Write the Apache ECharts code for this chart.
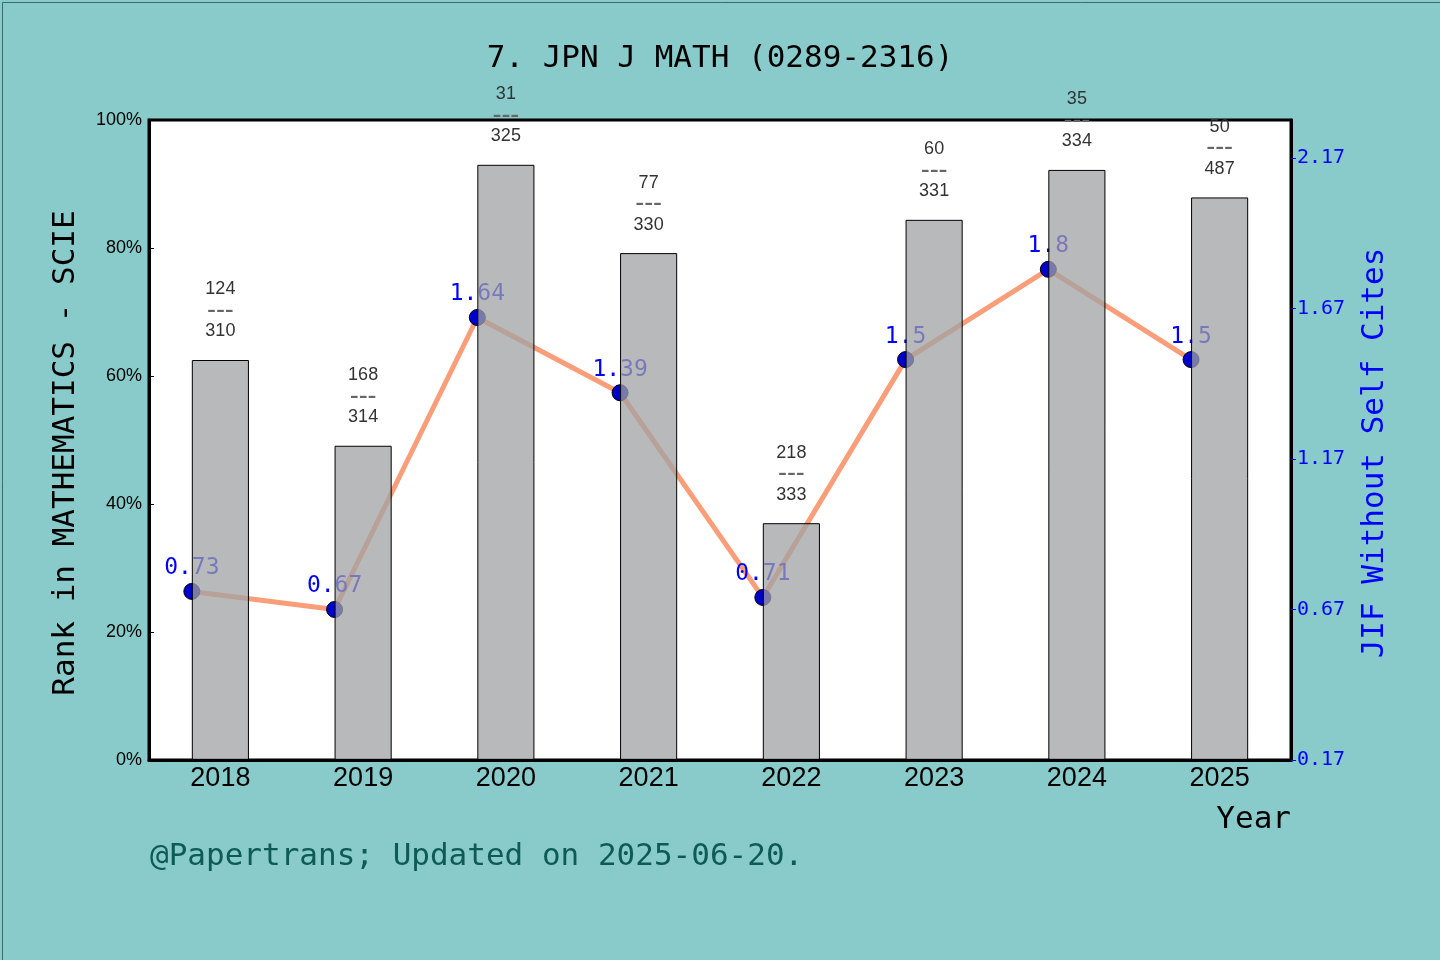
<!DOCTYPE html>
<html>
<head>
<meta charset="utf-8">
<script src="https://cdn.jsdelivr.net/npm/echarts@6.0.0/dist/echarts.min.js"></script>
<style>
  html, body { margin: 0; padding: 0; background: #88cbca; }
  #chart { width: 1440px; height: 960px; }
</style>
</head>
<body>
<div id="chart"></div>
<script>
// Chart data
const years = ["2018", "2019", "2020", "2021", "2022", "2023", "2024", "2025"];
const rankPercent = [62.5, 49.1, 93.0, 79.2, 37.0, 84.4, 92.2, 87.9];
const rankPos = [124, 168, 31, 77, 218, 60, 35, 50];
const rankTotal = [310, 314, 325, 330, 333, 331, 334, 487];
const jifValues = [0.73, 0.67, 1.64, 1.39, 0.71, 1.5, 1.8, 1.5];
const jifTicks = [0.17, 0.67, 1.17, 1.67, 2.17];

const monoFont = "DejaVu Sans Mono";
const sansFont = "Liberation Sans";

const chart = echarts.init(document.getElementById("chart"), null, { renderer: "canvas" });

// line points sit on the left edge of each bar (bar is 40% of the band)
const jifPoints = jifValues.map((v, i) => [i - 0.2, v]);

const option = {
  backgroundColor: "#88cbca",
  animation: false,
  title: {
    text: "7. JPN J MATH (0289-2316)",
    left: "center",
    top: 38,
    textStyle: { fontFamily: monoFont, fontSize: 31, fontWeight: "normal", color: "#000" },
  },
  grid: {
    left: 149,
    right: 149,
    top: 120,
    bottom: 200,
    show: true,
    backgroundColor: "#fff",
    borderColor: "#000",
    borderWidth: 3,
  },
  xAxis: [
    {
      type: "category",
      data: years,
      name: "Year",
      nameLocation: "end",
      nameGap: 0,
      nameTextStyle: {
        fontFamily: monoFont,
        fontSize: 31,
        color: "#000",
        align: "right",
        verticalAlign: "top",
        padding: [44, 0, 0, 0],
      },
      axisLine: { onZero: false, lineStyle: { color: "#000", width: 3 } },
      axisTick: { inside: true, length: 5, lineStyle: { color: "#000" } },
      axisLabel: { fontFamily: sansFont, fontSize: 27, color: "#000", margin: 5 },
    },
    {
      type: "value",
      min: -0.5,
      max: 7.5,
      show: false,
    },
  ],
  yAxis: [
    {
      type: "value",
      min: 0,
      max: 100,
      interval: 20,
      name: "Rank in MATHEMATICS - SCIE",
      nameLocation: "middle",
      nameGap: 68,
      nameTextStyle: { fontFamily: monoFont, fontSize: 31, color: "#000", padding: [0, 26, 0, 0] },
      splitLine: { show: false },
      axisLine: { show: true, onZero: false, lineStyle: { color: "#000", width: 3 } },
      axisTick: { show: true, inside: true, length: 5, lineStyle: { color: "#000" } },
      axisLabel: { formatter: "{value}%", fontFamily: sansFont, fontSize: 18, color: "#000", margin: 7 },
    },
    {
      type: "value",
      position: "right",
      min: 0.17,
      max: 2.296,
      name: "JIF Without Self Cites",
      nameLocation: "middle",
      nameGap: 68,
      nameTextStyle: { fontFamily: monoFont, fontSize: 31, color: "#0000ff", padding: [0, 26, 0, 0] },
      splitLine: { show: false },
      axisLine: { show: true, onZero: false, lineStyle: { color: "#000", width: 3 } },
      axisTick: { show: true, length: 5, customValues: jifTicks, lineStyle: { color: "#0000ff" } },
      axisLabel: {
        customValues: jifTicks,
        formatter: (v) => v.toFixed(2),
        fontFamily: monoFont,
        fontSize: 20,
        color: "#0000ff",
        margin: 6,
      },
    },
  ],
  series: [
    {
      name: "JIF",
      type: "line",
      xAxisIndex: 1,
      yAxisIndex: 1,
      z: 2,
      data: jifPoints,
      symbol: "circle",
      symbolSize: 16,
      lineStyle: { color: "#fa9e7a", width: 5 },
      itemStyle: { color: "#0000cc", borderColor: "#000", borderWidth: 1 },
      label: {
        show: true,
        position: "top",
        distance: 3,
        formatter: (p) => String(p.value[1]),
        fontFamily: monoFont,
        fontSize: 23,
        color: "#0000ff",
      },
    },
    {
      name: "Rank",
      type: "bar",
      xAxisIndex: 0,
      yAxisIndex: 0,
      z: 3,
      barWidth: "40%",
      data: rankPercent,
      itemStyle: { color: "rgba(160,161,163,0.75)", borderColor: "#000", borderWidth: 1 },
      label: {
        show: true,
        position: "top",
        distance: 18,
        formatter: (p) => rankPos[p.dataIndex] + "\n{d|---}\n" + rankTotal[p.dataIndex],
        fontFamily: sansFont,
        fontSize: 18,
        lineHeight: 21,
        color: "#333",
        rich: {
          d: { fontFamily: sansFont, fontSize: 27, lineHeight: 21, color: "#666" },
        },
      },
    },
  ],
  graphic: [
    {
      type: "text",
      left: 150,
      top: 841,
      style: {
        text: "@Papertrans; Updated on 2025-06-20.",
        fontFamily: monoFont,
        fontSize: 31,
        fill: "#0d5a57",
      },
    },
    {
      type: "rect",
      left: 0,
      top: 0,
      shape: { width: 1439, height: 959 },
      style: { fill: "none", stroke: "#3c6b6a", lineWidth: 1 },
      silent: true,
    },
  ],
};

chart.setOption(option);
</script>
</body>
</html>
